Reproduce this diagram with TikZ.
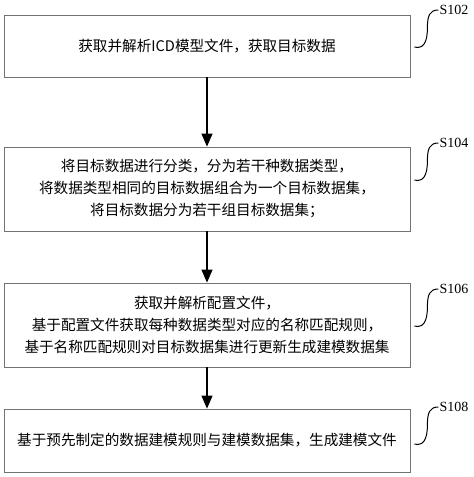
\documentclass[tikz,border=0pt]{standalone}
\usepackage{fontspec}
\setmainfont{Liberation Serif}
\newfontfamily\cjk{Noto Sans CJK SC}
\usetikzlibrary{arrows.meta}
\tikzset{>={Triangle[length=13pt,width=11pt]}}
\colorlet{boxgray}{black!55}
\tikzset{
  stepbox/.style = {
    draw=boxgray, line width=0.8pt, minimum width=406pt,
    align=center, font=\cjk\fontsize{14.6}{22}\selectfont
  },
  steplabel/.style = {font=\fontsize{14}{14}\selectfont, inner sep=0pt},
  squiggle/.style = {line width=1pt}
}

\begin{document}
\begin{tikzpicture}[x=1pt,y=-1pt]
  \useasboundingbox (0,0) rectangle (474,477);
  % steps
  \node[stepbox, minimum height=62pt] (b1) at (207,46)
    {获取并解析ICD模型文件，获取目标数据};
  \node[stepbox, minimum height=84pt] (b2) at (207,189)
    {将目标数据进行分类，分为若干种数据类型，\\
     将数据类型相同的目标数据组合为一个目标数据集，\\
     将目标数据分为若干组目标数据集；};
  \node[stepbox, minimum height=84pt] (b3) at (207,325)
    {获取并解析配置文件，\\
     基于配置文件获取每种数据类型对应的名称匹配规则，\\
     基于名称匹配规则对目标数据集进行更新生成建模数据集};
  \node[stepbox, minimum height=63pt] (b4) at (207,440.5)
    {基于预先制定的数据建模规则与建模数据集，生成建模文件};
  % step labels
  \node[steplabel] (l1) at (454,10) {S102};
  \node[steplabel] (l2) at (454,143) {S104};
  \node[steplabel] (l3) at (454,289) {S106};
  \node[steplabel] (l4) at (454,407) {S108};
  % arrows
  \draw[line width=1.2pt,->] (b1) -- (b2);
  \draw[line width=1.2pt,->] (b2) -- (b3);
  \draw[line width=1.2pt,->] (b3) -- (b4);
  % squiggles
  \foreach \L in {l1,l2,l3,l4} {
    \draw[squiggle] ([xshift=-1pt]\L.west)
      .. controls +(-9,0) and +(0,-12) .. ++(-11,18)
      .. controls +(0,16) and +(8,2) .. ++(-13,19);
  }
\end{tikzpicture}
\end{document}
